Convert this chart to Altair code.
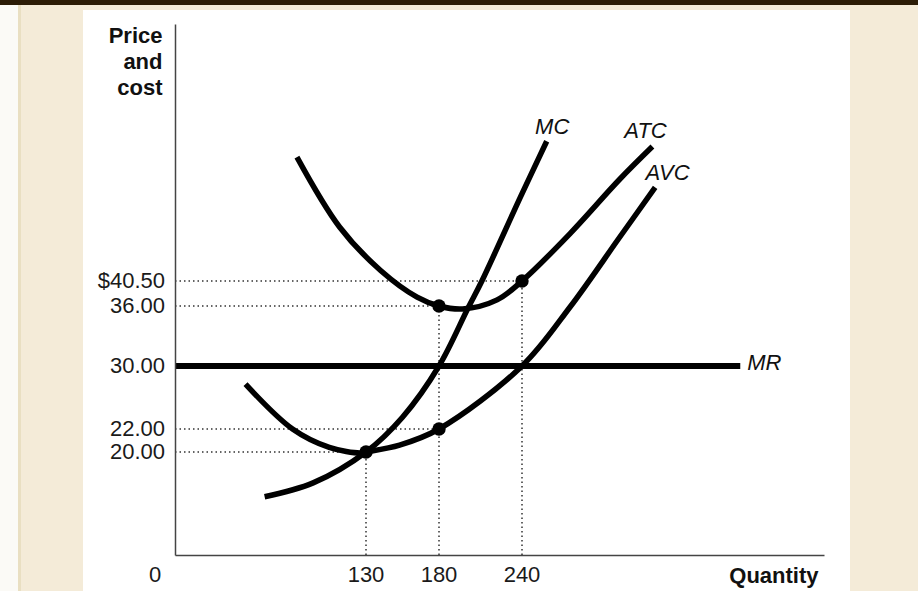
import altair as alt
import pandas as pd

# ---- data ----
mc_q = [61, 94, 130, 155, 180, 201, 211, 239, 258]
mc_p = [11.3, 14.0, 20, 23.5, 30, 35.8, 40.5, 46.9, 51.1]

atc_q = [83, 112, 140, 165, 180, 197, 222, 240, 275, 311, 335]
atc_p = [49.9, 44.6, 41.3, 37.6, 36, 35.7, 37.1, 40.5, 44.1, 48.2, 50.7]

avc_q = [48, 80, 105, 126, 130, 153, 180, 240, 275, 311, 337]
avc_p = [27.7, 22, 20.4, 19.8, 20, 20.6, 22, 30, 35.9, 43.8, 47.6]

mr_q = [0, 399]
mr_p = [30, 30]

dot_q = [130, 180, 180, 240]
dot_p = [20, 36, 22, 40.5]

hguide_p = [40.5, 36, 22, 20]
hguide_q = [240, 180, 180, 130]
vguide_q = [130, 180, 240]
vguide_p = [20, 36, 40.5]

label_text = ["MC", "ATC", "AVC"]
label_q = [262, 330, 346]
label_p = [52.2, 51.9, 48.7]
mr_label = ["MR"]
mr_label_q = [404]
mr_label_p = [30.3]

y_ticks = [40.5, 36, 30, 22, 20]
y_tick_labels = ["$40.50", "36.00", "30.00", "22.00", "20.00"]
x_ticks = [130, 180, 240]
x_tick_labels = ["130", "180", "240"]
origin_label = ["0"]

FONT = "Liberation Sans"
FS = 22
W, H = 649, 531

xs = alt.Scale(domain=[0, 130, 180, 240, 460], range=[0, 191, 264, 347, 649], nice=False, zero=False)
ys = alt.Scale(domain=[0, 20, 22, 30, 36, 40.5, 60], range=[531, 428, 405, 342, 282, 257, 0], nice=False, zero=False)

curves = pd.DataFrame(
    [{"curve": "MC", "q": a, "p": b} for a, b in zip(mc_q, mc_p)]
    + [{"curve": "ATC", "q": a, "p": b} for a, b in zip(atc_q, atc_p)]
    + [{"curve": "AVC", "q": a, "p": b} for a, b in zip(avc_q, avc_p)]
)
mr = pd.DataFrame({"q": mr_q, "p": mr_p})
dots = pd.DataFrame({"q": dot_q, "p": dot_p})
hg = pd.DataFrame({"p": hguide_p, "q2": hguide_q, "q": [0] * len(hguide_p)})
vg = pd.DataFrame({"q": vguide_q, "p2": vguide_p, "p": [0] * len(vguide_q)})
labs = pd.DataFrame({"t": label_text, "q": label_q, "p": label_p})
mrl = pd.DataFrame({"t": mr_label, "q": mr_label_q, "p": mr_label_p})
ylab = pd.DataFrame({"p": y_ticks, "t": y_tick_labels})
xlab = pd.DataFrame({"q": x_ticks, "t": x_tick_labels})
olab = pd.DataFrame({"q": [0], "t": origin_label})
one = pd.DataFrame({"a": [0]})

# ---- page decoration ----
def box(x, x2, y, y2, color):
    return alt.Chart(one).mark_rect(color=color).encode(
        x=alt.value(x), x2=alt.value(x2), y=alt.value(y), y2=alt.value(y2))

bg = (box(-92, 675, -14, 567, "white")
      + box(-175, -157, -24, 567, "#fbfaf6")
      + box(-157, -154, -24, 567, "#e9dfc2")
      + box(-175, 743, -24, -19, "#2c1c06"))

xax = alt.Axis(values=x_ticks, ticks=False, grid=False, labels=False, domainColor="#444",
               domainWidth=1.5, zindex=1,
               title="Quantity", titleFont=FONT, titleFontSize=FS, titleFontWeight="bold",
               titleColor="#111", titleAlign="right", titleAnchor="end", titleX=643, titleY=27,
               titleBaseline="alphabetic")
yax = alt.Axis(values=y_ticks, ticks=False, grid=False, labels=False, domainColor="#444",
               domainWidth=1.5, zindex=1,
               title=["Price", "and", "cost"], titleFont=FONT, titleFontSize=FS,
               titleFontWeight="bold", titleColor="#111", titleAngle=0, titleAlign="right",
               titleX=-13, titleY=18, titleBaseline="alphabetic", titleLineHeight=26)

guides_h = alt.Chart(hg).mark_rule(color="#333", strokeWidth=1.5, strokeDash=[1.5, 3]).encode(
    x=alt.X("q:Q", scale=xs, axis=xax), x2="q2:Q", y=alt.Y("p:Q", scale=ys, axis=yax))
guides_v = alt.Chart(vg).mark_rule(color="#333", strokeWidth=1.5, strokeDash=[1.5, 3]).encode(
    x=alt.X("q:Q", scale=xs), y=alt.Y("p:Q", scale=ys), y2="p2:Q")

mr_line = alt.Chart(mr).mark_line(color="black", strokeWidth=6).encode(
    x=alt.X("q:Q", scale=xs), y=alt.Y("p:Q", scale=ys))

curve_lines = alt.Chart(curves).mark_line(color="black", strokeWidth=5.5, interpolate="catmull-rom",
                                          strokeCap="butt").encode(
    x=alt.X("q:Q", scale=xs), y=alt.Y("p:Q", scale=ys), detail="curve:N")

dot_marks = alt.Chart(dots).mark_circle(color="black", opacity=1, size=180).encode(
    x=alt.X("q:Q", scale=xs), y=alt.Y("p:Q", scale=ys))

label_marks = alt.Chart(labs).mark_text(font=FONT, fontSize=FS, fontStyle="italic", color="#111",
                                        align="center", baseline="middle").encode(
    x=alt.X("q:Q", scale=xs), y=alt.Y("p:Q", scale=ys), text="t:N")
mr_text = alt.Chart(mrl).mark_text(font=FONT, fontSize=FS, fontStyle="italic", color="#111",
                                   align="left", baseline="middle").encode(
    x=alt.X("q:Q", scale=xs), y=alt.Y("p:Q", scale=ys), text="t:N")

ytext = alt.Chart(ylab).mark_text(font=FONT, fontSize=FS, color="#1a1a1a", align="right",
                                  baseline="middle").encode(
    x=alt.value(-10), y=alt.Y("p:Q", scale=ys), text="t:N")
xtext = alt.Chart(xlab).mark_text(font=FONT, fontSize=FS, color="#1a1a1a", align="center",
                                  baseline="middle").encode(
    x=alt.X("q:Q", scale=xs), y=alt.value(551), text="t:N")
otext = alt.Chart(olab).mark_text(font=FONT, fontSize=FS, color="#1a1a1a", align="center",
                                  baseline="middle", dx=-20).encode(
    x=alt.X("q:Q", scale=xs), y=alt.value(551), text="t:N")

chart = alt.layer(bg, guides_h, guides_v, mr_line, curve_lines, dot_marks, label_marks, mr_text,
                  ytext, xtext, otext).properties(
    width=W, height=H, background="#f4ebd8",
    padding={"left": 175, "top": 24, "right": 94, "bottom": 36},
    autosize=alt.AutoSizeParams(type="none"),
).configure(font=FONT).configure_view(stroke=None)

chart.save("out.html", embed_options={"renderer": "svg", "actions": False})
